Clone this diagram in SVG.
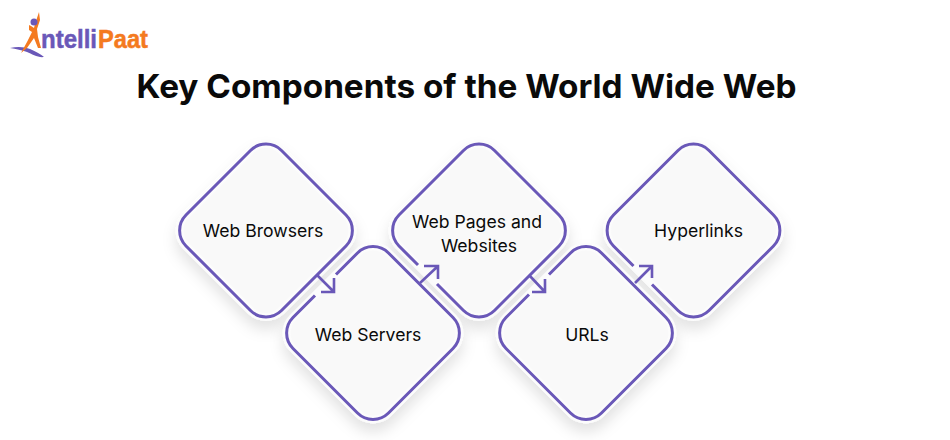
<svg xmlns="http://www.w3.org/2000/svg" width="950" height="440" viewBox="0 0 950 440">
<defs>
<filter id="sh" x="-25%" y="-25%" width="150%" height="150%"><feDropShadow dx="0" dy="9" stdDeviation="7" flood-color="#000" flood-opacity="0.11"/></filter>
<path id="dia" d="M-15.500-80A22 22 0 0 1 15.500-80L80-15.500A22 22 0 0 1 80 15.500L15.500 80A22 22 0 0 1-15.500 80L-80 15.500A22 22 0 0 1-80-15.500Z"/>
</defs>
<style>
text{font-family:"Inter","Liberation Sans",sans-serif;fill:#0a0a0a}
.t{font-size:17.600px;text-anchor:middle}
.title{font-size:33.300px;font-weight:700;text-anchor:middle}
.d{fill:#f9f9f9;stroke:#fcfcfc;stroke-width:8;filter:url(#sh)}
.o{fill:none;stroke:#6a58b8;stroke-width:3;stroke-linejoin:round}
.a{fill:none;stroke:#6a58b8;stroke-width:2.600}
.lo{font-size:25px;font-weight:700;font-family:"Liberation Sans",sans-serif;stroke-width:.5}
</style>
<rect width="950" height="440" fill="#fff"/>
<g id="logo">
<path d="M10 48C18 46 25 47 30 49C36 52 41 54 44 57C38 58 32 54 27 52C22 50 16 49 10 48Z" fill="#6a58b8"/>
<path d="M39 12L40 20L37 29L38 37L41 48L38 48L34 38L27 48L21 53L27 42L32 32L29 30L29 25L31 26L34 28L35 24L37 18Z" fill="#f47a20"/>
<circle cx="34" cy="22" r="3.500" fill="#6a58b8"/>
<text x="41" y="48" class="lo" style="fill:#6a58b8;stroke:#6a58b8" textLength="56" lengthAdjust="spacingAndGlyphs">ntelli</text>
<text x="98" y="48" class="lo" style="fill:#f47a20;stroke:#f47a20" textLength="50" lengthAdjust="spacingAndGlyphs">Paat</text>
</g>
<text id="title" x="466.500" y="98" class="title">Key Components of the World Wide Web</text>
<g id="n1" transform="translate(266 230.500)"><use href="#dia" class="d"/><use href="#dia" class="o"/><text class="t" x="-3" y="6.500">Web Browsers</text></g>
<g id="n3" transform="translate(479 230.500)"><use href="#dia" class="d"/><path class="o" d="M-61 34.500L-80 15.500A22 22 0 0 1-80-15.500L-15.500-80A22 22 0 0 1 15.500-80L80-15.500A22 22 0 0 1 80 15.500L15.500 80A22 22 0 0 1-15.500 80L-42 53.500"/><text class="t" x="-2" y="-3">Web Pages and</text><text class="t" y="21">Websites</text></g>
<g id="n5" transform="translate(693.500 230.500)"><use href="#dia" class="d"/><path class="o" d="M-60 35.500L-80 15.500A22 22 0 0 1-80-15.500L-15.500-80A22 22 0 0 1 15.500-80L80-15.500A22 22 0 0 1 80 15.500L15.500 80A22 22 0 0 1-15.500 80L-41.500 54"/><text class="t" x="5" y="6.500">Hyperlinks</text></g>
<g id="n2" transform="translate(373 333)"><use href="#dia" class="d"/><path class="o" d="M-37-58.500L-15.500-80A22 22 0 0 1 15.500-80L80-15.500A22 22 0 0 1 80 15.500L15.500 80A22 22 0 0 1-15.500 80L-80 15.500A22 22 0 0 1-80-15.500L-58-37.500"/><text class="t" x="-5" y="7.500">Web Servers</text></g>
<g id="n4" transform="translate(586 333)"><use href="#dia" class="d"/><path class="o" d="M-37-58.500L-15.500-80A22 22 0 0 1 15.500-80L80-15.500A22 22 0 0 1 80 15.500L15.500 80A22 22 0 0 1-15.500 80L-80 15.500A22 22 0 0 1-80-15.500L-57-38.500"/><text class="t" x="1" y="7.500">URLs</text></g>
<g id="connectors">
<path class="a" d="M317 275L334 292M321 292H334V278"/>
<path class="a" d="M420 283L437 267M424 266H438V279"/>
<path class="a" d="M529 275L545 292M532 292H545V279"/>
<path class="a" d="M635 283L652 266M639 266H652V278"/>
</g>
</svg>
